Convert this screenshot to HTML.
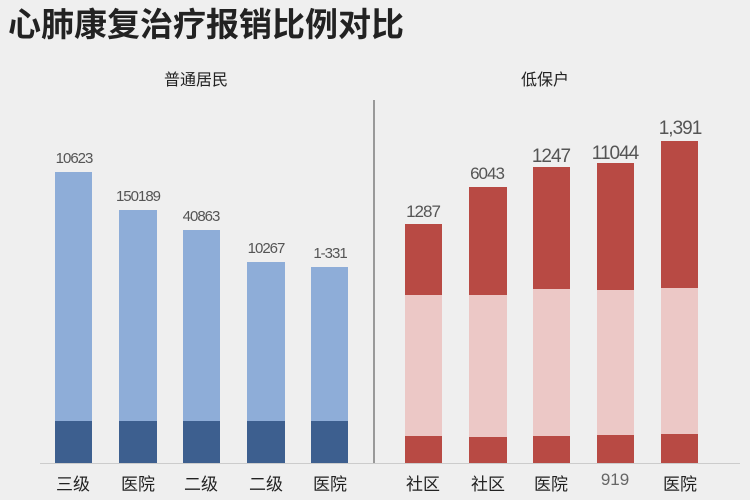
<!DOCTYPE html><html><head><meta charset="utf-8"><style>
body{margin:0;width:750px;height:500px;background:#efefef;position:relative;overflow:hidden;font-family:"Liberation Sans","Noto Sans CJK SC",sans-serif;color:#222}
div{position:absolute}
.t{font-size:33px;font-weight:bold;left:8px;top:-2px}
.h{font-size:16px;top:66px}
.v{font-size:15px;color:#555;width:80px;text-align:center;letter-spacing:-1px}
.x{font-size:17px;top:470px;width:60px;text-align:center}
</style></head><body>
<div class="t">心肺康复治疗报销比例对比</div>
<div class="h" style="left:164px">普通居民</div>
<div class="h" style="left:521px">低保户</div>
<div style="left:373px;top:100px;width:2px;height:364px;background:#999"></div>
<div style="left:40px;top:463px;width:700px;height:1px;background:#ccc"></div>

<div style="left:55px;top:172px;width:37px;height:249px;background:#8eadd8"></div><div style="left:55px;top:421px;width:37px;height:42px;background:#3d5f8f"></div>
<div style="left:119px;top:210px;width:38px;height:211px;background:#8eadd8"></div><div style="left:119px;top:421px;width:38px;height:42px;background:#3d5f8f"></div>
<div style="left:183px;top:230px;width:37px;height:191px;background:#8eadd8"></div><div style="left:183px;top:421px;width:37px;height:42px;background:#3d5f8f"></div>
<div style="left:247px;top:262px;width:38px;height:159px;background:#8eadd8"></div><div style="left:247px;top:421px;width:38px;height:42px;background:#3d5f8f"></div>
<div style="left:311px;top:267px;width:37px;height:154px;background:#8eadd8"></div><div style="left:311px;top:421px;width:37px;height:42px;background:#3d5f8f"></div>

<div class="v" style="left:34px;top:150px">10623</div>
<div class="v" style="left:98px;top:188px">150189</div>
<div class="v" style="left:161px;top:208px">40863</div>
<div class="v" style="left:226px;top:240px">10267</div>
<div class="v" style="left:290px;top:245px">1-331</div>

<div style="left:405px;top:224px;width:37px;height:71px;background:#b84a44"></div><div style="left:405px;top:295px;width:37px;height:141px;background:#ecc8c6"></div><div style="left:405px;top:436px;width:37px;height:27px;background:#b84a44"></div>
<div style="left:469px;top:187px;width:38px;height:108px;background:#b84a44"></div><div style="left:469px;top:295px;width:38px;height:142px;background:#ecc8c6"></div><div style="left:469px;top:437px;width:38px;height:26px;background:#b84a44"></div>
<div style="left:533px;top:167px;width:37px;height:122px;background:#b84a44"></div><div style="left:533px;top:289px;width:37px;height:147px;background:#ecc8c6"></div><div style="left:533px;top:436px;width:37px;height:27px;background:#b84a44"></div>
<div style="left:597px;top:163px;width:37px;height:127px;background:#b84a44"></div><div style="left:597px;top:290px;width:37px;height:145px;background:#ecc8c6"></div><div style="left:597px;top:435px;width:37px;height:28px;background:#b84a44"></div>
<div style="left:661px;top:141px;width:37px;height:147px;background:#b84a44"></div><div style="left:661px;top:288px;width:37px;height:146px;background:#ecc8c6"></div><div style="left:661px;top:434px;width:37px;height:29px;background:#b84a44"></div>

<div class="v" style="left:383px;top:202px;font-size:17px">1287</div>
<div class="v" style="left:447px;top:164px;font-size:17px">6043</div>
<div class="v" style="left:511px;top:146px;font-size:19px">1247</div>
<div class="v" style="left:575px;top:143px;font-size:19px">11044</div>
<div class="v" style="left:640px;top:118px;font-size:19px">1,391</div>

<div class="x" style="left:43px">三级</div>
<div class="x" style="left:108px">医院</div>
<div class="x" style="left:171px">二级</div>
<div class="x" style="left:236px">二级</div>
<div class="x" style="left:300px">医院</div>
<div class="x" style="left:393px">社区</div>
<div class="x" style="left:458px">社区</div>
<div class="x" style="left:521px">医院</div>
<div class="x" style="left:585px;color:#666">919</div>
<div class="x" style="left:650px">医院</div>
</body></html>
